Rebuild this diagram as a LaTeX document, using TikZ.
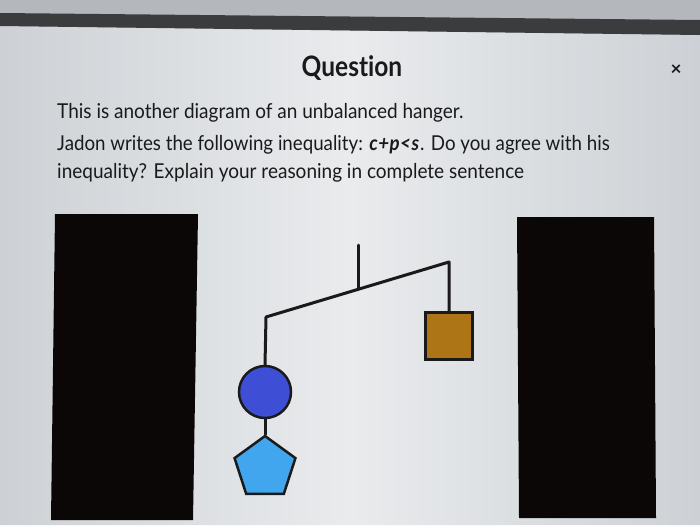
\documentclass[tikz,border=0pt]{standalone}
\usepackage{fontspec}
\setmainfont{Lato}[Ligatures=NoCommon]
\usetikzlibrary{shapes.geometric}
\definecolor{bgtop}{HTML}{B4B8BC}
\definecolor{band}{HTML}{3A3C3E}
\definecolor{bgside}{HTML}{CDD1D5}
\definecolor{bgmid}{HTML}{E9EBED}
\definecolor{ink}{HTML}{1A1A1A}
\definecolor{cblue}{HTML}{3E4FD6}
\definecolor{pblue}{HTML}{41A6EE}
\definecolor{sbrown}{HTML}{AE7516}
\definecolor{blk}{HTML}{0B0707}
\tikzset{
  rod/.style={draw=ink, line width=3pt, line cap=round, line join=round},
  weight/.style={draw=ink, line width=2.5pt, inner sep=0pt},
  bodytext/.style={anchor=base west, inner sep=0pt, text=ink, font=\fontsize{19}{22}\selectfont},
  panel/.style={fill=blk}
}
\begin{document}
\begin{tikzpicture}[x=1pt,y=-1pt]
\useasboundingbox (0,0) rectangle (700,525);
% background
\fill[bgtop] (0,0) rectangle (700,525);
\shade[left color=bgside, right color=bgside, middle color=bgmid] (0,26) -- (700,35) -- (700,525) -- (0,525) -- cycle;
\fill[band] (0,13) -- (700,20) -- (700,35) -- (0,26) -- cycle;
% title
\node[font=\fontsize{24.5}{28}\selectfont\bfseries, text=ink, anchor=base, inner sep=0pt] (title) at (352,76) {\scalebox{1}[1.15]{Question}};
\node[font=\fontsize{19}{22}\selectfont\bfseries, text=ink] (close) at (676,70) {×};
% body text
\node[bodytext] (l1) at (57,118) {\scalebox{1}[1.08]{This is another diagram of an unbalanced hanger.}};
\node[bodytext] (l2) at (57,150) {\scalebox{0.985}[1.08]{Jadon writes the following inequality: \textit{\textbf{c\kern0.5pt+\kern0.5pt p\kern0.5pt<\kern0.5pt s}}\kern1pt. Do you agree with his}};
\node[bodytext] (l3) at (57,178) {\scalebox{1}[1.08]{inequality? Explain your reasoning in complete sentence}};
% black panels
\fill[panel] (55,214) -- (198,214) -- (193,520) -- (51,520) -- cycle;
\fill[panel] (517,217) -- (654,217) -- (656,518) -- (519,518) -- cycle;
% hanger
\coordinate (hooktop) at (358,245);
\coordinate (hookbot) at (358,289);
\coordinate (beamL) at (266,317);
\coordinate (beamR) at (449,262);
\node[weight, circle, fill=cblue, minimum size=52pt] (c) at (265,392) {};
\node[weight, regular polygon, regular polygon sides=5, fill=pblue, minimum size=64pt] (p) at (265,468) {};
\node[weight, rectangle, fill=sbrown, minimum size=47pt] (s) at (449,336) {};
\draw[rod] (hooktop) -- (hookbot);
\draw[rod] (c.north) -- (beamL) -- (beamR) -- (s.north);
\draw[rod] (c.south) -- (p.corner 1);
\end{tikzpicture}
\end{document}
